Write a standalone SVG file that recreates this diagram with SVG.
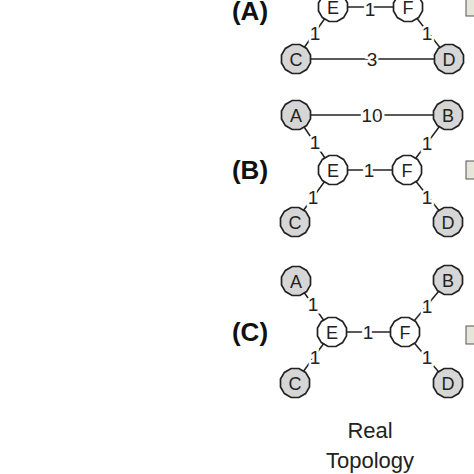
<svg xmlns="http://www.w3.org/2000/svg" width="474" height="474" viewBox="0 0 474 474">
<style>
.n use{stroke:#222;stroke-width:1.7}
.g use{fill:#d6d6d6}
.w use{fill:#fff}
.n text{font-family:"Liberation Sans",Arial,sans-serif;font-size:18px;text-anchor:middle;dominant-baseline:central;fill:#222}
.e line{stroke:#222;stroke-width:1.5}
.e text{font-family:"Liberation Sans",Arial,sans-serif;font-size:19px;text-anchor:middle;dominant-baseline:central;fill:#222;stroke:#fff;stroke-width:5;paint-order:stroke}
.p{font-family:"Liberation Sans",Arial,sans-serif;font-size:26px;font-weight:bold;text-anchor:middle;dominant-baseline:central;fill:#111}
.cap{font-family:"Liberation Sans",Arial,sans-serif;font-size:22px;text-anchor:middle;fill:#222}
.side{fill:#e6e6da;stroke:#555;stroke-width:1}
</style>
<defs>
<polygon id="shape" points="14.5,3.9 10.6,10.6 3.9,14.5 -3.9,14.5 -10.6,10.6 -14.5,3.9 -14.5,-3.9 -10.6,-10.6 -3.9,-14.5 3.9,-14.5 10.6,-10.6 14.5,-3.9"/>
</defs>
<rect width="474" height="474" fill="#fff"/>
<g id="connectors" class="e">
<line x1="296" y1="59" x2="333" y2="7"/>
<line x1="333" y1="7" x2="408" y2="7"/>
<line x1="408" y1="7" x2="449" y2="59"/>
<line x1="296" y1="59" x2="449" y2="59"/>
<text x="370" y="9">1</text>
<text x="315" y="33">1</text>
<text x="427" y="33">1</text>
<text x="372" y="59">3</text>
<line x1="296" y1="115" x2="448" y2="115"/>
<line x1="296" y1="115" x2="333" y2="170"/>
<line x1="448" y1="115" x2="407" y2="170"/>
<line x1="333" y1="170" x2="407" y2="170"/>
<line x1="295" y1="222" x2="333" y2="170"/>
<line x1="448" y1="222" x2="407" y2="170"/>
<text x="372" y="115">10</text>
<text x="315" y="142">1</text>
<text x="427" y="143">1</text>
<text x="369" y="170">1</text>
<text x="313" y="197">1</text>
<text x="427" y="197">1</text>
<line x1="296" y1="281" x2="332" y2="332"/>
<line x1="448" y1="280" x2="405" y2="332"/>
<line x1="332" y1="332" x2="405" y2="332"/>
<line x1="295" y1="383" x2="332" y2="332"/>
<line x1="448" y1="383" x2="405" y2="332"/>
<text x="313" y="304">1</text>
<text x="427" y="306">1</text>
<text x="368" y="332">1</text>
<text x="315" y="357">1</text>
<text x="427" y="357">1</text>
</g>
<g id="A-E" class="n w"><use href="#shape" x="333" y="7"/><text x="333" y="8">E</text></g>
<g id="A-F" class="n w"><use href="#shape" x="408" y="7"/><text x="408" y="8">F</text></g>
<g id="A-C" class="n g"><use href="#shape" x="296" y="59"/><text x="296" y="60">C</text></g>
<g id="A-D" class="n g"><use href="#shape" x="449" y="59"/><text x="449" y="60">D</text></g>
<g id="B-A" class="n g"><use href="#shape" x="296" y="115"/><text x="296" y="116">A</text></g>
<g id="B-B" class="n g"><use href="#shape" x="448" y="115"/><text x="448" y="116">B</text></g>
<g id="B-E" class="n w"><use href="#shape" x="333" y="170"/><text x="333" y="171">E</text></g>
<g id="B-F" class="n w"><use href="#shape" x="407" y="170"/><text x="407" y="171">F</text></g>
<g id="B-C" class="n g"><use href="#shape" x="295" y="222"/><text x="295" y="223">C</text></g>
<g id="B-D" class="n g"><use href="#shape" x="448" y="222"/><text x="448" y="223">D</text></g>
<g id="C-A" class="n g"><use href="#shape" x="296" y="281"/><text x="296" y="282">A</text></g>
<g id="C-B" class="n g"><use href="#shape" x="448" y="280"/><text x="448" y="281">B</text></g>
<g id="C-E" class="n w"><use href="#shape" x="332" y="332"/><text x="332" y="333">E</text></g>
<g id="C-F" class="n w"><use href="#shape" x="405" y="332"/><text x="405" y="333">F</text></g>
<g id="C-C" class="n g"><use href="#shape" x="295" y="383"/><text x="295" y="384">C</text></g>
<g id="C-D" class="n g"><use href="#shape" x="448" y="383"/><text x="448" y="384">D</text></g>
<text class="p" x="250" y="11">(A)</text>
<text class="p" x="250" y="170">(B)</text>
<text class="p" x="250" y="332">(C)</text>
<text class="cap" x="370" y="438">Real</text>
<text class="cap" x="370" y="468">Topology</text>
<rect class="side" x="466" y="-2" width="10" height="18"/>
<rect class="side" x="466" y="161" width="10" height="18"/>
<rect class="side" x="466" y="326" width="10" height="18"/>
</svg>
